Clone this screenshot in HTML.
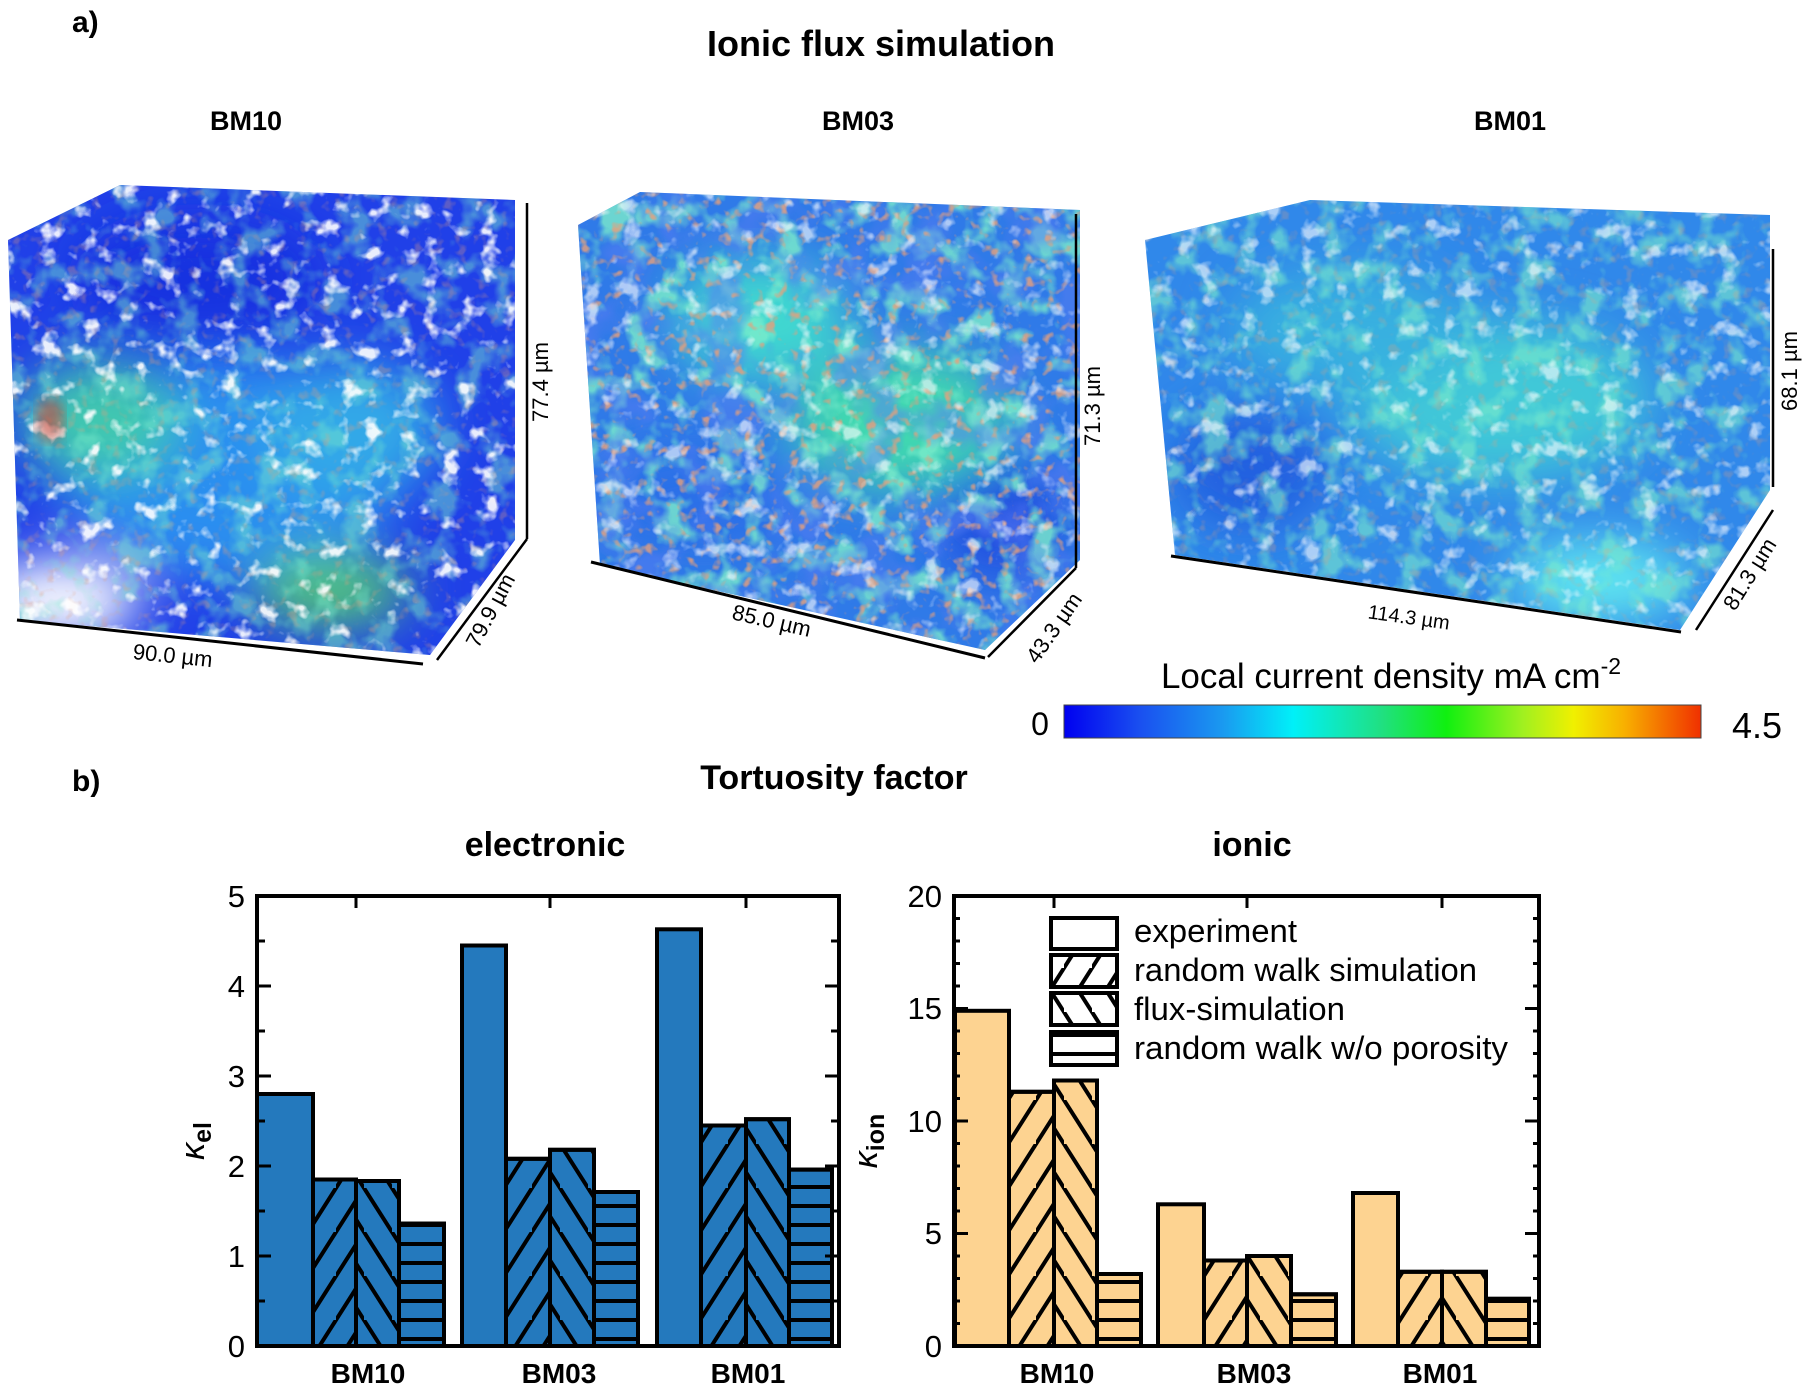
<!DOCTYPE html>
<html><head><meta charset="utf-8"><style>
html,body{margin:0;padding:0;background:#fff;}
svg{display:block;}
text{font-family:"Liberation Sans",Arial,sans-serif;}
</style></head><body>
<svg width="1817" height="1386" viewBox="0 0 1817 1386" xmlns="http://www.w3.org/2000/svg">
<defs>
  <pattern id="pf" patternUnits="userSpaceOnUse" width="28" height="44"><line x1="-14" y1="66" x2="42" y2="-22" stroke="#000" stroke-width="4"/><line x1="-42" y1="66" x2="14" y2="-22" stroke="#000" stroke-width="4"/></pattern>
  <pattern id="pb" patternUnits="userSpaceOnUse" width="28" height="44"><line x1="-14" y1="-22" x2="42" y2="66" stroke="#000" stroke-width="4"/><line x1="14" y1="-22" x2="70" y2="66" stroke="#000" stroke-width="4"/></pattern>
  <pattern id="ph" patternUnits="userSpaceOnUse" width="20" height="19"><line x1="0" y1="9" x2="20" y2="9" stroke="#000" stroke-width="4"/></pattern>
  <filter id="nG" x="0" y="0" width="100%" height="100%"><feTurbulence type="fractalNoise" baseFrequency="0.035" numOctaves="3" seed="3"/><feColorMatrix type="matrix" values="0 0 0 0 0.2  0 0 0 0 0.85  0 0 0 0 0.6  4 0 0 0 -1.9"/></filter>
  <filter id="nR" x="0" y="0" width="100%" height="100%"><feTurbulence type="fractalNoise" baseFrequency="0.09" numOctaves="2" seed="7"/><feColorMatrix type="matrix" values="0 0 0 0 0.8  0 0 0 0 0.35  0 0 0 0 0.2  5 0 0 0 -2.9"/></filter>
  <filter id="nW" x="0" y="0" width="100%" height="100%"><feTurbulence type="fractalNoise" baseFrequency="0.05" numOctaves="3" seed="11"/><feColorMatrix type="matrix" values="0 0 0 0 1  0 0 0 0 1  0 0 0 0 1  5 0 0 0 -2.9"/></filter>
  <filter id="nB" x="0" y="0" width="100%" height="100%"><feTurbulence type="fractalNoise" baseFrequency="0.02" numOctaves="3" seed="5"/><feColorMatrix type="matrix" values="0 0 0 0 0.1  0 0 0 0 0.2  0 0 0 0 0.9  4 0 0 0 -1.8"/></filter>
  <filter id="blur"><feGaussianBlur stdDeviation="25"/></filter>
  <filter id="sblur"><feGaussianBlur stdDeviation="6"/></filter>
  <clipPath id="c1"><polygon points="8,240 120,185 515,200 515,540 430,655 20,620"/></clipPath>
  <clipPath id="c2"><polygon points="578,225 640,192 1080,210 1080,560 985,650 600,565"/></clipPath>
  <clipPath id="c3"><polygon points="1145,240 1310,200 1770,215 1770,490 1680,630 1175,555"/></clipPath>
  <linearGradient id="cb" x1="0" x2="1">
    <stop offset="0" stop-color="#0000f0"/><stop offset="0.12" stop-color="#1a50f0"/><stop offset="0.25" stop-color="#1a9af0"/><stop offset="0.36" stop-color="#00f0f8"/><stop offset="0.5" stop-color="#20e080"/><stop offset="0.6" stop-color="#10f010"/><stop offset="0.72" stop-color="#a0f020"/><stop offset="0.8" stop-color="#f0f000"/><stop offset="0.88" stop-color="#f8b000"/><stop offset="1" stop-color="#f03000"/>
  </linearGradient>
</defs>
<rect width="1817" height="1386" fill="#fff"/>

<text x="72" y="32" font-size="30" font-weight="bold">a)</text>
<text x="881" y="56" font-size="36" font-weight="bold" text-anchor="middle">Ionic flux simulation</text>
<text x="246" y="130" font-size="27" font-weight="bold" text-anchor="middle">BM10</text>
<text x="858" y="130" font-size="27" font-weight="bold" text-anchor="middle">BM03</text>
<text x="1510" y="130" font-size="27" font-weight="bold" text-anchor="middle">BM01</text>

<!-- Cube 1 -->
<g clip-path="url(#c1)">
  <rect x="0" y="180" width="520" height="480" fill="#2040e8"/>
  <g filter="url(#blur)">
    <ellipse cx="230" cy="470" rx="170" ry="110" fill="#2a8ef0"/>
    <ellipse cx="100" cy="420" rx="80" ry="60" fill="#3fc8b0"/>
    <ellipse cx="350" cy="430" rx="90" ry="70" fill="#30a8e8"/>
    <ellipse cx="330" cy="590" rx="80" ry="40" fill="#50c080"/>
    <ellipse cx="200" cy="280" rx="120" ry="60" fill="#1430e0"/>
    <ellipse cx="60" cy="600" rx="80" ry="40" fill="#ffffff"/>
  </g>
  <rect x="0" y="180" width="520" height="480" filter="url(#nG)" opacity="0.45"/>
  <rect x="0" y="180" width="520" height="480" filter="url(#nR)" opacity="0.3"/>
  <rect x="0" y="180" width="520" height="480" filter="url(#nW)" opacity="0.9"/>
  <ellipse cx="50" cy="420" rx="14" ry="22" fill="#c84030" opacity="0.6" filter="url(#sblur)"/>
</g>
<line x1="527" y1="203" x2="527" y2="539" stroke="#000" stroke-width="2.5"/>
<line x1="527" y1="539" x2="437" y2="660" stroke="#000" stroke-width="2.5"/>
<line x1="17" y1="620" x2="423" y2="664" stroke="#000" stroke-width="3"/>
<text font-size="22" transform="translate(548,382) rotate(-90)" text-anchor="middle">77.4 µm</text>
<text font-size="22" transform="translate(497,614) rotate(-62)" text-anchor="middle">79.9 µm</text>
<text font-size="22" transform="translate(172,663) rotate(6)" text-anchor="middle">90.0 µm</text>

<!-- Cube 2 -->
<g clip-path="url(#c2)">
  <rect x="570" y="185" width="520" height="470" fill="#2f7ae8"/>
  <g filter="url(#blur)">
    <ellipse cx="760" cy="320" rx="90" ry="60" fill="#40d8d0"/>
    <ellipse cx="900" cy="420" rx="110" ry="70" fill="#40d8b0"/>
    <ellipse cx="700" cy="500" rx="100" ry="50" fill="#2a70e8"/>
    <ellipse cx="1000" cy="520" rx="60" ry="60" fill="#2050e0"/>
  </g>
  <rect x="570" y="185" width="520" height="470" filter="url(#nG)" opacity="0.8"/>
  <rect x="570" y="185" width="520" height="470" filter="url(#nB)" opacity="0.5"/>
  <rect x="570" y="185" width="520" height="470" filter="url(#nR)" opacity="0.8"/>
  <rect x="570" y="185" width="520" height="470" filter="url(#nW)" opacity="0.6"/>
</g>
<line x1="1076" y1="214" x2="1076" y2="568" stroke="#000" stroke-width="2.5"/>
<line x1="1076" y1="568" x2="988" y2="657" stroke="#000" stroke-width="2.5"/>
<line x1="591" y1="562" x2="985" y2="658" stroke="#000" stroke-width="3"/>
<text font-size="22" transform="translate(1100,406) rotate(-90)" text-anchor="middle">71.3 µm</text>
<text font-size="22" transform="translate(1060,632) rotate(-55)" text-anchor="middle">43.3 µm</text>
<text font-size="22" transform="translate(770,628) rotate(13)" text-anchor="middle">85.0 µm</text>

<!-- Cube 3 -->
<g clip-path="url(#c3)">
  <rect x="1140" y="195" width="640" height="440" fill="#3088ea"/>
  <g filter="url(#blur)">
    <ellipse cx="1500" cy="400" rx="150" ry="80" fill="#40c8d8"/>
    <ellipse cx="1350" cy="330" rx="120" ry="60" fill="#38b0e0"/>
    <ellipse cx="1600" cy="580" rx="90" ry="40" fill="#60e8f0"/>
    <ellipse cx="1250" cy="470" rx="80" ry="60" fill="#2460e0"/>
  </g>
  <rect x="1140" y="195" width="640" height="440" filter="url(#nG)" opacity="0.6"/>
  <rect x="1140" y="195" width="640" height="440" filter="url(#nR)" opacity="0.25"/>
  <rect x="1140" y="195" width="640" height="440" filter="url(#nW)" opacity="0.6"/>
</g>
<line x1="1773" y1="249" x2="1773" y2="487" stroke="#000" stroke-width="2.5"/>
<line x1="1773" y1="510" x2="1696" y2="630" stroke="#000" stroke-width="2.5"/>
<line x1="1171" y1="556" x2="1681" y2="632" stroke="#000" stroke-width="3"/>
<text font-size="22" transform="translate(1797,371) rotate(-90)" text-anchor="middle">68.1 µm</text>
<text font-size="22" transform="translate(1756,578) rotate(-58)" text-anchor="middle">81.3 µm</text>
<text font-size="20" transform="translate(1408,624) rotate(8)" text-anchor="middle">114.3 µm</text>

<!-- Colorbar -->
<text x="1391" y="688" font-size="35" text-anchor="middle">Local current density mA cm<tspan dy="-14" font-size="23">-2</tspan></text>
<rect x="1064" y="705" width="637" height="33" fill="url(#cb)" stroke="#444" stroke-width="1"/>
<text x="1040" y="735" font-size="32" text-anchor="middle">0</text>
<text x="1757" y="738" font-size="36" text-anchor="middle">4.5</text>

<text x="72" y="791" font-size="30" font-weight="bold">b)</text>
<text x="834" y="789" font-size="34" font-weight="bold" text-anchor="middle">Tortuosity factor</text>
<text x="545" y="856" font-size="34" font-weight="bold" text-anchor="middle">electronic</text>
<text x="1252" y="856" font-size="34" font-weight="bold" text-anchor="middle">ionic</text>

<!-- Electronic chart -->
<g stroke="#000" stroke-width="4">
  <rect x="257" y="1094" width="56" height="252" fill="#2479bd"/>
  <rect x="313" y="1179.5" width="43" height="166.5" fill="#2479bd"/><rect x="313" y="1179.5" width="43" height="166.5" fill="url(#pf)"/>
  <rect x="356" y="1181" width="43" height="165" fill="#2479bd"/><rect x="356" y="1181" width="43" height="165" fill="url(#pb)"/>
  <rect x="399" y="1223.6" width="45" height="122.4" fill="#2479bd"/><rect x="399" y="1223.6" width="45" height="122.4" fill="url(#ph)"/>
  <rect x="462" y="945.5" width="44" height="400.5" fill="#2479bd"/>
  <rect x="506" y="1158.8" width="44" height="187.2" fill="#2479bd"/><rect x="506" y="1158.8" width="44" height="187.2" fill="url(#pf)"/>
  <rect x="550" y="1149.8" width="44" height="196.2" fill="#2479bd"/><rect x="550" y="1149.8" width="44" height="196.2" fill="url(#pb)"/>
  <rect x="594" y="1192" width="44" height="154" fill="#2479bd"/><rect x="594" y="1192" width="44" height="154" fill="url(#ph)"/>
  <rect x="657" y="929.3" width="44" height="416.7" fill="#2479bd"/>
  <rect x="701" y="1125.5" width="45" height="220.5" fill="#2479bd"/><rect x="701" y="1125.5" width="45" height="220.5" fill="url(#pf)"/>
  <rect x="746" y="1119.2" width="43" height="226.8" fill="#2479bd"/><rect x="746" y="1119.2" width="43" height="226.8" fill="url(#pb)"/>
  <rect x="789" y="1169.6" width="43" height="176.4" fill="#2479bd"/><rect x="789" y="1169.6" width="43" height="176.4" fill="url(#ph)"/>
</g>
<rect x="257" y="896" width="582" height="450" fill="none" stroke="#000" stroke-width="4"/>
<g stroke="#000" stroke-width="3">
  <path d="M257 1301h8M257 1256h14M257 1211h8M257 1166h14M257 1121h8M257 1076h14M257 1031h8M257 986h14M257 941h8"/>
  <path d="M839 1301h-8M839 1256h-14M839 1211h-8M839 1166h-14M839 1121h-8M839 1076h-14M839 1031h-8M839 986h-14M839 941h-8"/>
  <path d="M356 896v12M550 896v12M746 896v12"/>
</g>
<g font-size="31" text-anchor="end">
  <text x="245" y="1357">0</text><text x="245" y="1267">1</text><text x="245" y="1177">2</text><text x="245" y="1087">3</text><text x="245" y="997">4</text><text x="245" y="907">5</text>
</g>
<text transform="translate(204,1141) rotate(-90)" font-size="34" text-anchor="middle" font-style="italic">κ<tspan font-size="25" font-weight="bold" font-style="normal" dy="7">el</tspan></text>
<g font-size="28" font-weight="bold" text-anchor="middle">
  <text x="368" y="1383">BM10</text><text x="559" y="1383">BM03</text><text x="748" y="1383">BM01</text>
</g>

<!-- Ionic chart -->
<g stroke="#000" stroke-width="4">
  <rect x="955" y="1010.8" width="54" height="335.2" fill="#fdd391"/>
  <rect x="1009" y="1091.8" width="45" height="254.2" fill="#fdd391"/><rect x="1009" y="1091.8" width="45" height="254.2" fill="url(#pf)"/>
  <rect x="1054" y="1080.5" width="43" height="265.5" fill="#fdd391"/><rect x="1054" y="1080.5" width="43" height="265.5" fill="url(#pb)"/>
  <rect x="1097" y="1274" width="44" height="72" fill="#fdd391"/><rect x="1097" y="1274" width="44" height="72" fill="url(#ph)"/>
  <rect x="1158" y="1204.3" width="46" height="141.7" fill="#fdd391"/>
  <rect x="1204" y="1260.5" width="43" height="85.5" fill="#fdd391"/><rect x="1204" y="1260.5" width="43" height="85.5" fill="url(#pf)"/>
  <rect x="1247" y="1256" width="44" height="90" fill="#fdd391"/><rect x="1247" y="1256" width="44" height="90" fill="url(#pb)"/>
  <rect x="1291" y="1294.3" width="45" height="51.7" fill="#fdd391"/><rect x="1291" y="1294.3" width="45" height="51.7" fill="url(#ph)"/>
  <rect x="1353" y="1193" width="45" height="153" fill="#fdd391"/>
  <rect x="1398" y="1271.8" width="44" height="74.2" fill="#fdd391"/><rect x="1398" y="1271.8" width="44" height="74.2" fill="url(#pf)"/>
  <rect x="1442" y="1271.8" width="44" height="74.2" fill="#fdd391"/><rect x="1442" y="1271.8" width="44" height="74.2" fill="url(#pb)"/>
  <rect x="1486" y="1298.8" width="43" height="47.2" fill="#fdd391"/><rect x="1486" y="1298.8" width="43" height="47.2" fill="url(#ph)"/>
</g>
<rect x="954" y="896" width="585" height="450" fill="none" stroke="#000" stroke-width="4"/>
<g stroke="#000" stroke-width="3">
  <path d="M954 1323.5h6M954 1301h6M954 1278.5h6M954 1256h6M954 1233.5h14M954 1211h6M954 1188.5h6M954 1166h6M954 1143.5h6M954 1121h14M954 1098.5h6M954 1076h6M954 1053.5h6M954 1031h6M954 1008.5h14M954 986h6M954 963.5h6M954 941h6M954 918.5h6"/>
  <path d="M1539 1323.5h-6M1539 1301h-6M1539 1278.5h-6M1539 1256h-6M1539 1233.5h-14M1539 1211h-6M1539 1188.5h-6M1539 1166h-6M1539 1143.5h-6M1539 1121h-14M1539 1098.5h-6M1539 1076h-6M1539 1053.5h-6M1539 1031h-6M1539 1008.5h-14M1539 986h-6M1539 963.5h-6M1539 941h-6M1539 918.5h-6"/>
  <path d="M1054 896v12M1247 896v12M1442 896v12"/>
</g>
<g font-size="31" text-anchor="end">
  <text x="942" y="1357">0</text><text x="942" y="1244">5</text><text x="942" y="1132">10</text><text x="942" y="1019">15</text><text x="942" y="907">20</text>
</g>
<text transform="translate(877,1141) rotate(-90)" font-size="34" text-anchor="middle" font-style="italic">κ<tspan font-size="25" font-weight="bold" font-style="normal" dy="7">ion</tspan></text>
<g font-size="28" font-weight="bold" text-anchor="middle">
  <text x="1057" y="1383">BM10</text><text x="1254" y="1383">BM03</text><text x="1440" y="1383">BM01</text>
</g>

<!-- Legend -->
<g stroke="#000" stroke-width="4">
  <rect x="1051" y="918" width="66" height="31" fill="#fff"/>
  <rect x="1051" y="955" width="66" height="32" fill="#fff"/><rect x="1051" y="955" width="66" height="32" fill="url(#pf)"/>
  <rect x="1051" y="993" width="66" height="32" fill="#fff"/><rect x="1051" y="993" width="66" height="32" fill="url(#pb)"/>
  <rect x="1051" y="1032" width="66" height="33" fill="#fff"/><rect x="1051" y="1032" width="66" height="33" fill="url(#ph)"/>
</g>
<g font-size="32">
  <text x="1134" y="942" textLength="163" lengthAdjust="spacingAndGlyphs">experiment</text>
  <text x="1134" y="981" textLength="343" lengthAdjust="spacingAndGlyphs">random walk simulation</text>
  <text x="1134" y="1020" textLength="211" lengthAdjust="spacingAndGlyphs">flux-simulation</text>
  <text x="1134" y="1059" textLength="374" lengthAdjust="spacingAndGlyphs">random walk w/o porosity</text>
</g>
</svg>
</body></html>
